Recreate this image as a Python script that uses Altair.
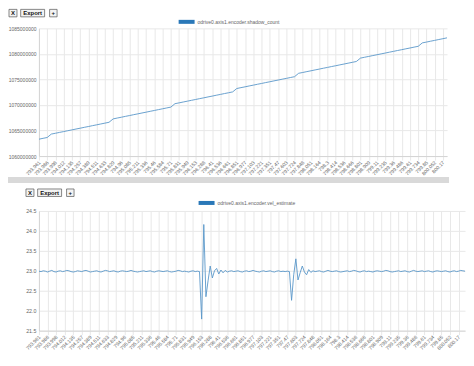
import json
import altair as alt
import pandas as pd

# ---------------- data ----------------
tick_labels = [
    "793.961", "793.986", "793.998", "794.012", "794.135", "794.257", "794.389", "794.511", "794.633", "794.829",
    "794.96", "795.085", "795.211", "795.336", "795.46", "795.584", "795.71", "795.831", "795.949", "796.153",
    "796.288", "796.41", "796.536", "796.661", "796.851", "796.977", "797.103", "797.221", "797.351", "797.47",
    "797.603", "797.724", "797.848", "798.051", "798.164", "798.3", "798.414", "798.536", "798.666", "798.801",
    "798.909", "799.11", "799.235", "799.36", "799.486", "799.61", "799.734", "799.85", "800.052", "800.17",
]

shadow_count = [
    1063300000, 1063470000, 1063630000, 1064300000, 1064460000, 1064630000, 1064790000, 1064960000, 1065120000, 1065290000,
    1065450000, 1065620000, 1065780000, 1065950000, 1066110000, 1066280000, 1066440000, 1066610000, 1067270000, 1067440000,
    1067600000, 1067770000, 1067930000, 1068100000, 1068260000, 1068430000, 1068590000, 1068760000, 1068920000, 1069090000,
    1069250000, 1069420000, 1069580000, 1070250000, 1070410000, 1070580000, 1070740000, 1070910000, 1071070000, 1071240000,
    1071400000, 1071570000, 1071730000, 1071900000, 1072060000, 1072230000, 1072390000, 1072560000, 1073220000, 1073390000,
    1073550000, 1073720000, 1073880000, 1074050000, 1074210000, 1074380000, 1074540000, 1074710000, 1074870000, 1075040000,
    1075200000, 1075370000, 1075530000, 1076200000, 1076360000, 1076530000, 1076690000, 1076860000, 1077020000, 1077190000,
    1077350000, 1077520000, 1077680000, 1077850000, 1078010000, 1078180000, 1078340000, 1078510000, 1079170000, 1079340000,
    1079500000, 1079670000, 1079830000, 1080000000, 1080160000, 1080330000, 1080490000, 1080660000, 1080820000, 1080990000,
    1081150000, 1081320000, 1081480000, 1082150000, 1082310000, 1082480000, 1082640000, 1082810000, 1082970000, 1083140000,
]

vel_estimate = [
    22.99, 22.98, 23.00, 22.99, 22.97, 22.99, 23.01, 22.98, 22.97, 22.99,
    23.00, 22.98, 22.99, 23.01, 23.00, 22.98, 22.97, 22.98, 23.00, 22.99,
    22.98, 23.00, 23.01, 22.99, 22.97, 22.98, 22.99, 23.00, 22.98, 22.97,
    22.99, 23.01, 23.00, 22.98, 22.99, 23.00, 22.98, 22.97, 22.99, 23.00,
    22.99, 22.98, 22.99, 23.01, 22.99, 22.98, 22.97, 22.98, 22.99, 23.00,
    22.98, 22.99, 23.00, 22.98, 22.97, 22.99, 23.00, 22.99, 22.98, 22.99,
    23.00, 22.98, 22.97, 22.98, 22.99, 23.01, 23.00, 22.98, 22.99, 22.98,
    22.97, 22.99, 23.00, 22.98, 22.99, 22.98, 21.79, 24.16, 22.35, 22.75,
    23.12, 22.82, 23.00, 23.06, 22.92, 23.02, 22.95, 23.01, 22.97, 22.99,
    23.00, 22.98, 22.99, 23.00, 22.98, 22.97, 22.99, 23.00, 22.98, 22.99,
    23.01, 22.99, 22.98, 22.97, 22.99, 23.00, 22.98, 22.99, 23.00, 22.98,
    22.97, 22.99, 23.00, 22.98, 22.99, 22.98, 22.99, 22.98, 22.26, 22.90,
    23.30, 22.77, 22.95, 23.12, 22.97, 22.90, 23.03, 22.96, 23.00, 22.98,
    22.99, 23.00, 22.98, 22.97, 22.99, 23.01, 22.99, 22.98, 22.99, 23.00,
    22.98, 22.97, 22.98, 22.99, 23.00, 22.98, 22.99, 23.01, 23.00, 22.98,
    22.97, 22.99, 23.00, 22.98, 22.99, 22.98, 22.97, 22.99, 23.00, 22.99,
    22.98, 22.99, 23.01, 23.00, 22.98, 22.97, 22.98, 22.99, 23.00, 22.98,
    22.99, 23.00, 22.98, 22.97, 22.99, 23.01, 22.99, 22.98, 22.99, 23.00,
    22.98, 22.99, 23.00, 22.98, 22.97, 22.99, 23.00, 22.99, 22.98, 22.99,
    23.00, 22.98, 22.97, 22.99, 23.00, 22.98, 22.99, 23.01, 23.00, 22.99,
]

top_y_ticks = [1060000000, 1065000000, 1070000000, 1075000000, 1080000000, 1085000000]
bottom_y_ticks = [21.5, 22.0, 22.5, 23.0, 23.5, 24.0, 24.5]
top_name = "odrive0.axis1.encoder.shadow_count"
bottom_name = "odrive0.axis1.encoder.vel_estimate"
button_texts = ["X", "Export", "+"]

# ---------------- style ----------------
FONT = "Liberation Sans"
GRID = "#e8e8e8"
LINE = "#5a97c9"
LEGEND_BOX = "#2a78b8"
LABEL = "#666666"
SHADE = "#d9d9d9"

one = alt.Data(values=[{"k": 1}])


def rect(x, x2, y, y2, **kw):
    return alt.Chart(one).mark_rect(**kw).encode(
        x=alt.value(x), x2=alt.value(x2), y=alt.value(y), y2=alt.value(y2)
    )


def text(x, y, s, **kw):
    return alt.Chart(one).mark_text(text=s, font=FONT, **kw).encode(
        x=alt.value(x), y=alt.value(y)
    )


def buttons(x0, y0):
    layers = []
    for dx, w, s in zip([0, 11.7, 40.7], [8, 24, 7.5], button_texts):
        layers.append(rect(x0 + dx, x0 + dx + w, y0, y0 + 7.5,
                           fill="#f3f3f3", stroke="#555555", strokeWidth=0.7))
        layers.append(text(x0 + dx + w / 2, y0 + 4, s, fontSize=6, color="#111111",
                           align="center", baseline="middle", fontWeight="bold"))
    return layers


def line_layer(values, step, y_ticks, y_domain, y_format, y_font):
    df = pd.DataFrame({"i": list(range(len(values))), "v": values})
    n = len(values)
    xt = [k * step for k in range(len(tick_labels))]
    expr = json.dumps(tick_labels) + "[round(datum.value / %d)]" % step
    return alt.Chart(df).mark_line(color=LINE, strokeWidth=0.9, clip=True).encode(
        x=alt.X("i:Q", scale=alt.Scale(domain=[0, n - 1], nice=False, zero=False),
                axis=alt.Axis(values=xt, labelExpr=expr, labelAngle=-45, labelAlign="right",
                              labelBaseline="middle", labelFontSize=5, labelColor=LABEL,
                              labelFont=FONT, labelOverlap=False, labelPadding=1,
                              labelFlush=False, labelBound=False,
                              grid=True, gridColor=GRID, gridWidth=1, tickColor=GRID,
                              tickSize=4, domainColor="#d4d4d4", title=None)),
        y=alt.Y("v:Q", scale=alt.Scale(domain=y_domain, nice=False, zero=False),
                axis=alt.Axis(values=y_ticks, format=y_format, labelFontSize=y_font,
                              labelColor=LABEL, labelFont=FONT, labelPadding=3,
                              labelFlush=False,
                              grid=True, gridColor=GRID, gridWidth=1, ticks=False,
                              tickSize=0, domainColor="#d4d4d4", title=None)),
    )


# ---------------- top panel ----------------
top = alt.layer(
    rect(-31, 411, -19, 149, opacity=0),
    rect(-31, 411, 149, 155, fill=SHADE),
    line_layer(shadow_count, 2, top_y_ticks, [1060000000, 1085000000], "d", 5),
    rect(140, 156, -8.5, -4.5, fill=LEGEND_BOX),
    text(159, -6.5, top_name, fontSize=5, color=LABEL, align="left", baseline="middle"),
    *buttons(-30, -19),
).properties(width=409, height=128)

# ---------------- bottom panel ----------------
bottom = alt.layer(
    rect(-14, 428, -28, 142, opacity=0),
    line_layer(vel_estimate, 4, bottom_y_ticks, [21.5, 24.5], ".1f", 5.3),
    rect(160, 176, -10, -6, fill=LEGEND_BOX),
    text(179, -8, bottom_name, fontSize=5, color=LABEL, align="left", baseline="middle"),
    *buttons(-13, -22),
).properties(width=427, height=120)

chart = alt.concat(top, bottom, columns=1, spacing=0, align="none").properties(
    padding=0, background="white"
).configure_view(strokeWidth=0)

chart.save("out.html", embed_options={"renderer": "svg", "actions": False})
